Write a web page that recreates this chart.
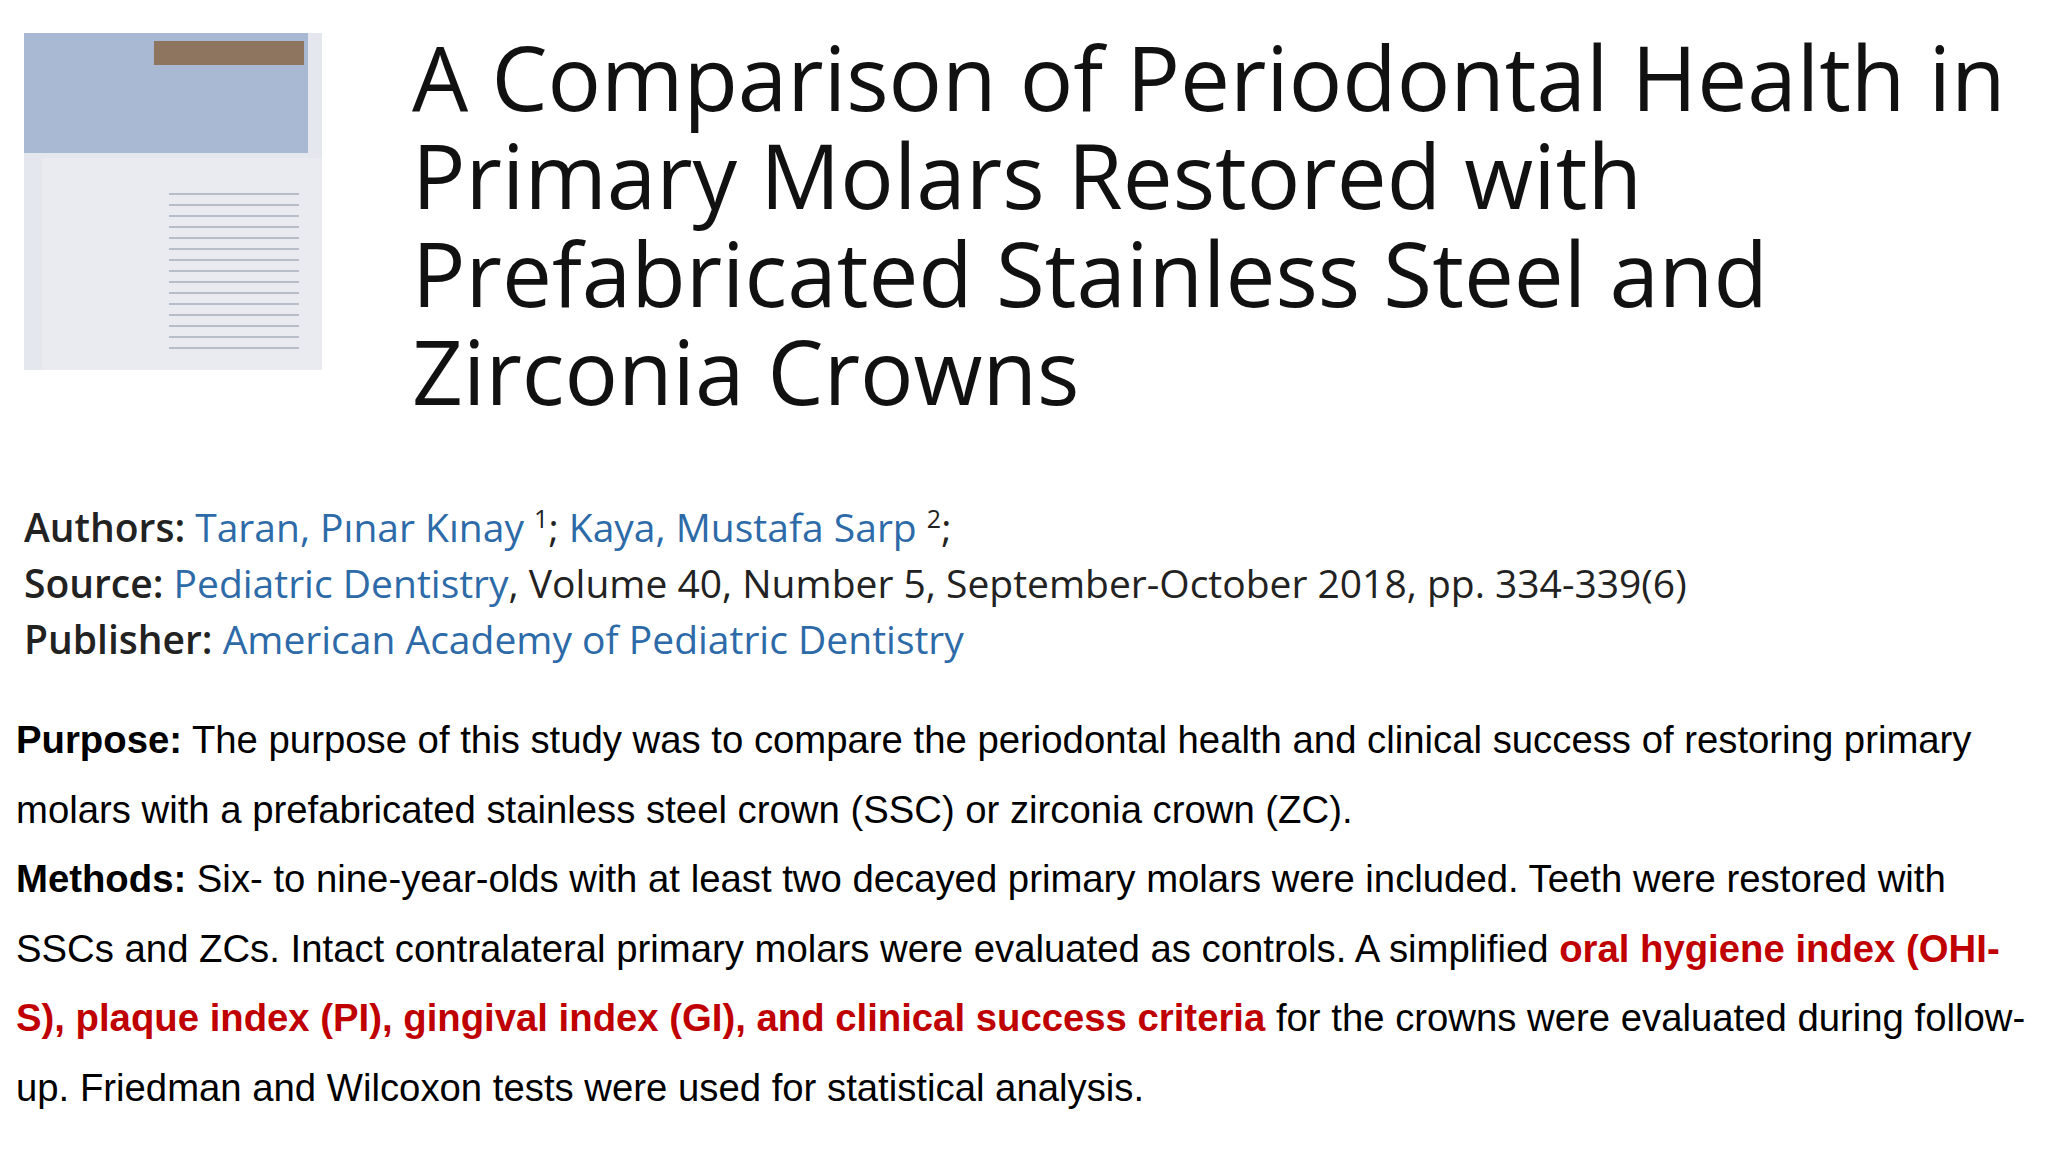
<!DOCTYPE html>
<html>
<head>
<meta charset="utf-8">
<script src="https://cdn.jsdelivr.net/npm/chart.js"></script>
<style>
  html, body { margin: 0; padding: 0; background: #fff; }
  body { width: 2048px; height: 1152px; position: relative; overflow: hidden; }
  .cover { position: absolute; left: 24px; top: 33px; width: 298px; height: 337px; background: #e4e8ee; }
  .cover .band { position: absolute; left: 0; top: 0; width: 284px; height: 120px; background: #a9b9d3; }
  .cover .pic { position: absolute; left: 130px; top: 8px; width: 150px; height: 24px; background: #8d7560; }
  .cover .body { position: absolute; left: 18px; top: 125px; width: 280px; height: 212px; background: #e9ebf0; }
  .cover .txt { position: absolute; left: 145px; top: 160px; width: 130px; height: 160px;
    background: repeating-linear-gradient(#b7bdc9 0 2px, transparent 2px 11px); }
  .title { position: absolute; left: 412px; top: 28px; font-family: "Open Sans"; font-size: 89px;
    line-height: 98px; color: #111; }
  .meta { position: absolute; left: 24px; top: 490px; font-family: "Open Sans"; font-size: 39px;
    line-height: 56px; color: #222; }
  .meta b { font-weight: 600; }
  .meta a { color: #2d6aa8; text-decoration: none; }
  .meta sup { font-size: 25px; }
  .abs { position: absolute; left: 16px; top: 705px; width: 2030px; font-family: "Liberation Sans";
    font-size: 38.3px; line-height: 69.5px; color: #000; }
  .red { color: #c00000; font-weight: bold; }
</style>
</head>
<body>
<div class="cover"><div class="band"></div><div class="pic"></div><div class="body"></div><div class="txt"></div></div>
<div class="title">A Comparison of Periodontal Health in<br>Primary Molars Restored with<br>Prefabricated Stainless Steel and<br>Zirconia Crowns</div>
<div class="meta">
<b>Authors:</b> <a>Taran, Pınar Kınay</a> <sup>1</sup>; <a>Kaya, Mustafa Sarp</a> <sup>2</sup>;<br>
<b>Source:</b> <a>Pediatric Dentistry</a>, Volume 40, Number 5, September-October 2018, pp. 334-339(6)<br>
<b>Publisher:</b> <a>American Academy of Pediatric Dentistry</a>
</div>
<div class="abs">
<b>Purpose:</b> The purpose of this study was to compare the periodontal health and clinical success of restoring primary<br>
molars with a prefabricated stainless steel crown (SSC) or zirconia crown (ZC).<br>
<b>Methods:</b> Six- to nine-year-olds with at least two decayed primary molars were included. Teeth were restored with<br>
SSCs and ZCs. Intact contralateral primary molars were evaluated as controls. A simplified <span class="red">oral hygiene index (OHI-</span><br>
<span class="red">S), plaque index (PI), gingival index (GI), and clinical success criteria</span> for the crowns were evaluated during follow-<br>
up. Friedman and Wilcoxon tests were used for statistical analysis.
</div>
</body>
</html>
